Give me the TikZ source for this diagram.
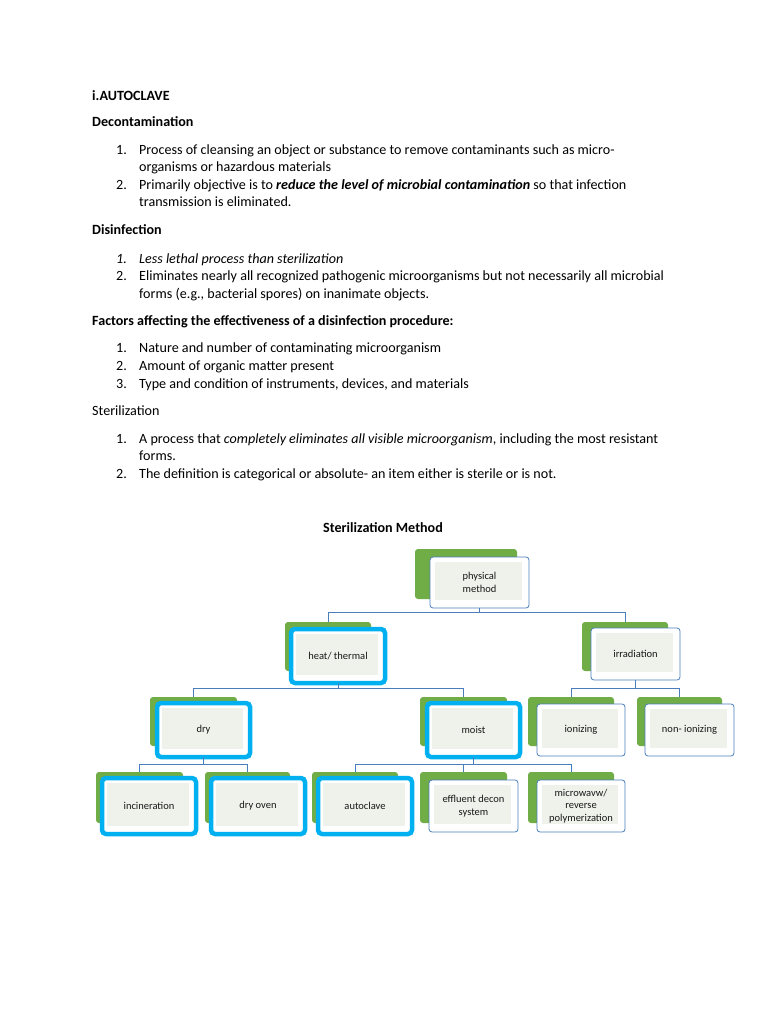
\documentclass[tikz,border=0pt]{standalone}
\usepackage{fontspec}
\setmainfont{Carlito}
\begin{document}
\begin{tikzpicture}[x=1pt,y=-1pt,
  txt/.style={anchor=base west,inner sep=0pt,font=\fontsize{14.1}{16}\selectfont},
  hd/.style={txt,font=\fontsize{14.1}{16}\selectfont\bfseries},
  fbox/.style={draw=lineblue,line width=0.8pt,fill=white,rounded corners=3pt},
  hbox/.style={draw=cyanb,line width=4.5pt,fill=white,rounded corners=4pt},
  lbl/.style={font=\fontsize{10.5}{12.5}\selectfont,align=center,text=black!90},
  conn/.style={draw=lineblue,line width=0.9pt}]
\definecolor{gbg}{HTML}{70AD47}
\definecolor{lineblue}{HTML}{4A7EBB}
\definecolor{cyanb}{HTML}{00B0F0}
\definecolor{inner}{HTML}{EEF2EA}
\tikzset{gbox/.style={fill=gbg,draw=none,rounded corners=3pt}}
\useasboundingbox (0,0) rectangle (768,1024);
\fill[white] (0,0) rectangle (768,1024);
% text
\node[hd] (t0) at (92,101) {i.AUTOCLAVE};
\node[hd] (t1) at (92,127) {Decontamination};
\node[txt] (n1) at (116,155) {1.};
\node[txt] (a1) at (139,155) {Process of cleansing an object or substance to remove contaminants such as micro-};
\node[txt] (a1b) at (139,172) {organisms or hazardous materials};
\node[txt] (n2) at (116,190) {2.};
\node[txt] (a2) at (139,190) {Primarily objective is to \textit{\bfseries reduce the level of microbial contamination} so that infection};
\node[txt] (a2b) at (139,207) {transmission is eliminated.};
\node[hd] (t2) at (92,235) {Disinfection};
\node[txt] (n3) at (116,263) {\textit{1.}};
\node[txt] (a3) at (139,263) {\textit{Less lethal process than sterilization}};
\node[txt] (n4) at (116,280) {2.};
\node[txt] (a4) at (139,280) {Eliminates nearly all recognized pathogenic microorganisms but not necessarily all microbial};
\node[txt] (a4b) at (139,298) {forms (e.g., bacterial spores) on inanimate objects.};
\node[hd] (t3) at (92,325) {Factors affecting the effectiveness of a disinfection procedure:};
\node[txt] (n5) at (116,352) {1.};
\node[txt] (a5) at (139,352) {Nature and number of contaminating microorganism};
\node[txt] (n6) at (116,370) {2.};
\node[txt] (a6) at (139,370) {Amount of organic matter present};
\node[txt] (n7) at (116,388) {3.};
\node[txt] (a7) at (139,388) {Type and condition of instruments, devices, and materials};
\node[txt] (t4) at (92,415) {Sterilization};
\node[txt] (n8) at (116,443) {1.};
\node[txt] (a8) at (139,443) {A process that \textit{completely eliminates all visible microorganism}, including the most resistant};
\node[txt] (a8b) at (139,460) {forms.};
\node[txt] (n9) at (116,478) {2.};
\node[txt] (a9) at (139,478) {The definition is categorical or absolute- an item either is sterile or is not.};
\node[hd,anchor=base] (title) at (383,532) {Sterilization Method};
\foreach \n/\gx/\gy/\gX/\gY/\fx/\fy/\fX/\fY/\st/\tx in {
  phys/415/549/517/599/430/557/529/608/fbox/{physical\\method},
  heat/285/622/371/671/291/629/385/683/hbox/{heat/ thermal},
  irr/582/622/668/671/591/628/680/680/fbox/{irradiation},
  dry/150/697/237/746/157/703/250/757/hbox/{dry},
  moist/420/697/507/746/427/703/520/757/hbox/{moist},
  ion/528/697/614/746/537/704/625/756/fbox/{ionizing},
  nion/637/697/722/746/645/704/734/756/fbox/{non- ionizing},
  inc/96/772/183/823/102/778/196/834/hbox/{incineration},
  oven/205/772/290/823/211/778/305/834/hbox/{dry oven},
  auto/312/772/398/823/318/778/412/834/hbox/{autoclave},
  eff/420/772/507/823/429/780/518/832/fbox/{effluent decon\\system},
  mic/528/772/614/823/537/780/625/832/fbox/{microwavw/\\reverse\\polymerization}}{
  \fill[gbox] (\gx,\gy) rectangle (\gX,\gY);
  \coordinate (g\n) at ({(\gx+\gX)/2},\gy);
  \draw[\st] (\fx,\fy) rectangle (\fX,\fY);
  \fill[inner] (\fx+5,\fy+5) rectangle (\fX-7,\fY-8);
  \node[lbl] (\n) at ({(\fx+\fX)/2},{(\fy+\fY)/2}) {\tx};
  \coordinate (b\n) at ({(\fx+\fX)/2},\fY);
}
\draw[conn] (bphys) -- (bphys |- 0,612) -| (gheat);
\draw[conn] (bphys |- 0,612) -| (girr);
\draw[conn] (bheat) -- (bheat |- 0,688) -| (gdry);
\draw[conn] (bheat |- 0,688) -| (gmoist);
\draw[conn] (birr) -- (birr |- 0,688) -| (gion);
\draw[conn] (birr |- 0,688) -| (gnion);
\draw[conn] (bdry) -- (bdry |- 0,764) -| (ginc);
\draw[conn] (bdry |- 0,764) -| (goven);
\draw[conn] (bmoist) -- (bmoist |- 0,764) -| (gauto);
\draw[conn] (bmoist |- 0,764) -| (geff);
\draw[conn] (bmoist |- 0,764) -| (gmic);
\end{tikzpicture}
\end{document}
